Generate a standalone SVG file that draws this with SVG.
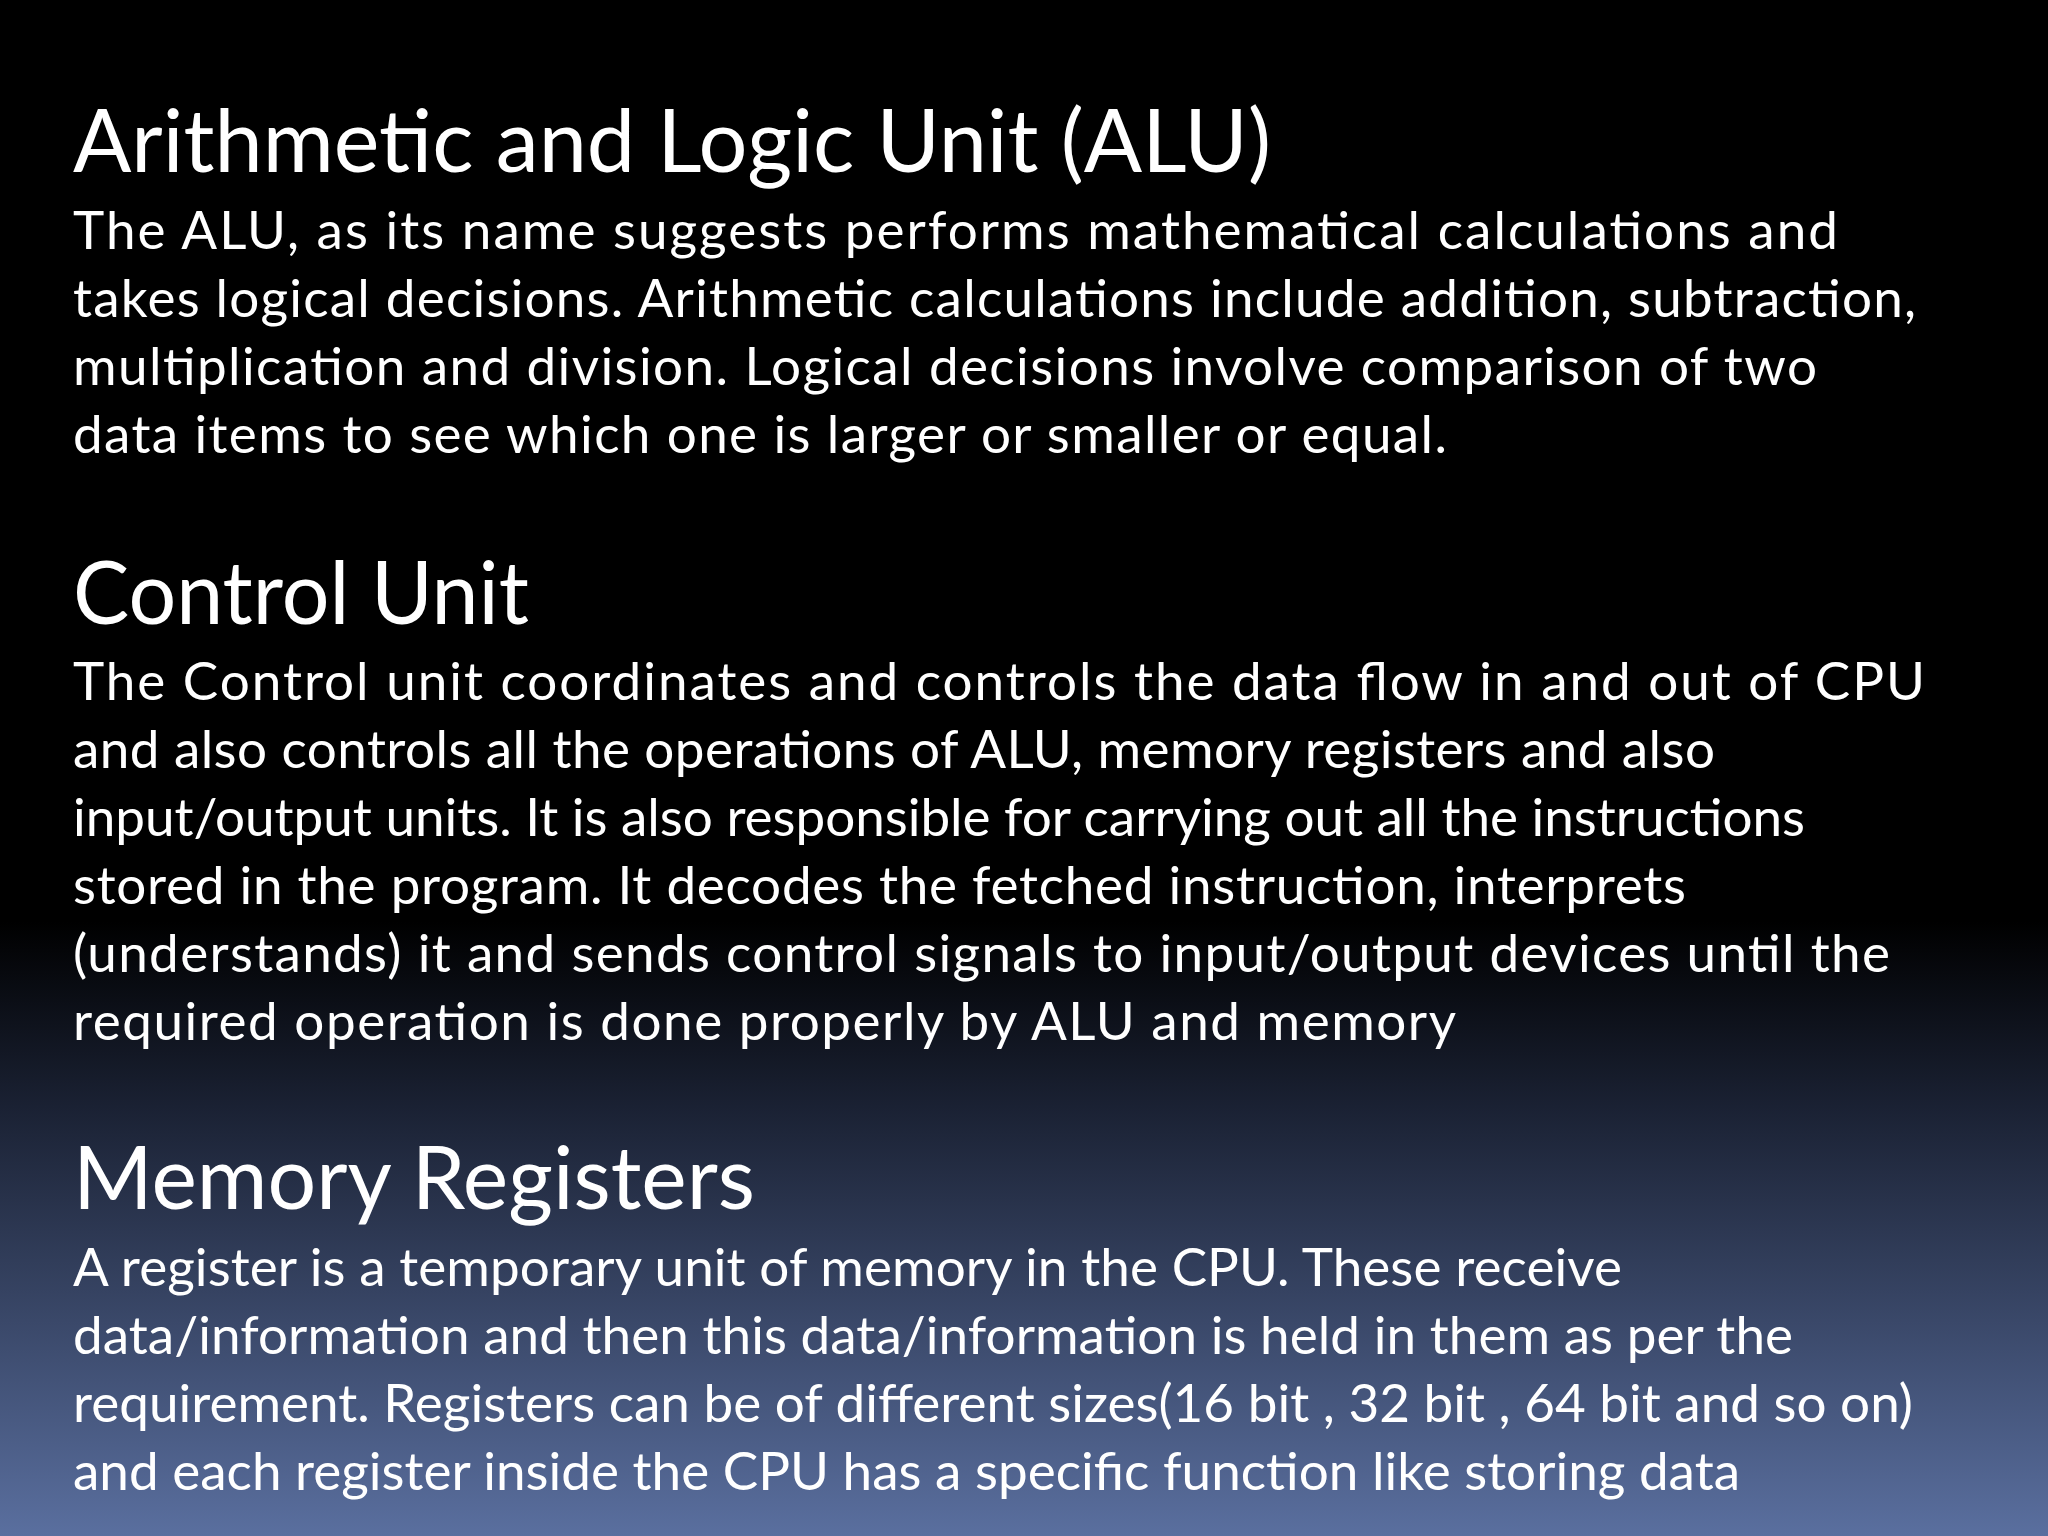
<svg xmlns="http://www.w3.org/2000/svg" width="2048" height="1536" viewBox="0 0 2048 1536">
<defs>
<linearGradient id="bg" x1="0" y1="0" x2="0" y2="1">
<stop offset="0" stop-color="#000000"/>
<stop offset="0.6" stop-color="#000000"/>
<stop offset="0.72" stop-color="#1a2133"/>
<stop offset="1" stop-color="#5a6f9f"/>
</linearGradient>
<style>
text{fill:#ffffff;font-family:Lato,"Open Sans","Liberation Sans",sans-serif}
.h{font-size:88px}
.b{font-size:53px}
</style>
</defs>
<rect width="2048" height="1536" fill="url(#bg)"/>
<g id="alu">
<text class="h" x="73" y="172" textLength="1198" lengthAdjust="spacingAndGlyphs">Arithmetic and Logic Unit (ALU)</text>
<text class="b" x="73" y="249" textLength="1765" lengthAdjust="spacing">The ALU, as its name suggests performs mathematical calculations and</text>
<text class="b" x="73" y="317" textLength="1843" lengthAdjust="spacing">takes logical decisions. Arithmetic calculations include addition, subtraction,</text>
<text class="b" x="73" y="385" textLength="1744" lengthAdjust="spacing">multiplication and division. Logical decisions involve comparison of two</text>
<text class="b" x="73" y="453" textLength="1374" lengthAdjust="spacing">data items to see which one is larger or smaller or equal.</text>
</g>
<g id="control">
<text class="h" x="73" y="624" textLength="456" lengthAdjust="spacingAndGlyphs">Control Unit</text>
<text class="b" x="73" y="700" textLength="1852" lengthAdjust="spacing">The Control unit coordinates and controls the data flow in and out of CPU</text>
<text class="b" x="73" y="768" textLength="1642" lengthAdjust="spacing">and also controls all the operations of ALU, memory registers and also</text>
<text class="b" x="73" y="836" textLength="1732" lengthAdjust="spacing">input/output units. It is also responsible for carrying out all the instructions</text>
<text class="b" x="73" y="904" textLength="1613" lengthAdjust="spacing">stored in the program. It decodes the fetched instruction, interprets</text>
<text class="b" x="73" y="972" textLength="1817" lengthAdjust="spacing">(understands) it and sends control signals to input/output devices until the</text>
<text class="b" x="73" y="1040" textLength="1383" lengthAdjust="spacing">required operation is done properly by ALU and memory</text>
</g>
<g id="memory">
<text class="h" x="73" y="1209" textLength="682" lengthAdjust="spacingAndGlyphs">Memory Registers</text>
<text class="b" x="73" y="1286" textLength="1549" lengthAdjust="spacing">A register is a temporary unit of memory in the CPU. These receive</text>
<text class="b" x="73" y="1354" textLength="1720" lengthAdjust="spacing">data/information and then this data/information is held in them as per the</text>
<text class="b" x="73" y="1422" textLength="1840" lengthAdjust="spacing">requirement. Registers can be of different sizes(16 bit , 32 bit , 64 bit and so on)</text>
<text class="b" x="73" y="1490" textLength="1667" lengthAdjust="spacing">and each register inside the CPU has a specific function like storing data</text>
</g>
</svg>
